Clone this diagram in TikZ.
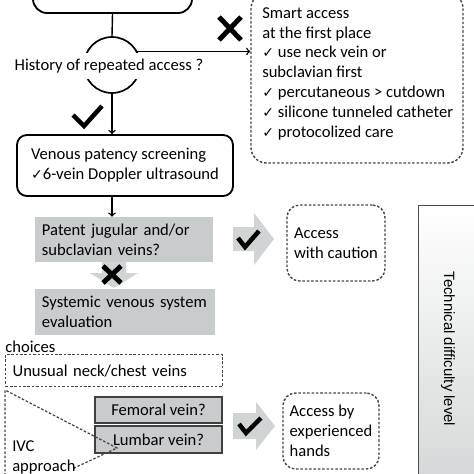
\documentclass[tikz,border=0pt]{standalone}
\usepackage{fontspec}
\setmainfont{Carlito}
\newfontfamily\arialfont{Liberation Sans}
\newfontfamily\symfont{DejaVu Sans}
\usepackage{tikz}
\usetikzlibrary{shapes.geometric,arrows,positioning,calc}

\newlength\unitpx
\setlength\unitpx{0.025cm}
\newcommand\chk{{\symfont\fontsize{10}{12}\selectfont ✓}}

\definecolor{boxgray}{RGB}{200,204,204}
\definecolor{dashgray}{RGB}{70,70,70}

\tikzstyle{txt}=[inner sep=0pt, align=left, font=\fontsize{11.8}{14.2}\selectfont]
\tikzstyle{solidbox}=[draw, line width=1.3pt, rounded corners=7pt]
\tikzstyle{dashbox}=[draw=dashgray, line width=1pt, dash pattern=on 1.8pt off 1.3pt, rounded corners=9pt]
\tikzstyle{dashrect}=[draw=dashgray, line width=0.9pt, dash pattern=on 1.8pt off 1.3pt]
\tikzstyle{graybox}=[fill=boxgray]
\tikzstyle{veinbox}=[fill=boxgray, draw=black!75, line width=1pt]
\tikzstyle{flow}=[->, line width=1pt]
\tikzstyle{tick}=[line width=3.2pt]
\tikzstyle{cross}=[line width=3.5pt]
\tikzstyle{blockarrow}=[fill=boxgray!85]

\begin{document}
\begin{tikzpicture}[x=1\unitpx, y=-1\unitpx]
\useasboundingbox (0,0) rectangle (474,474);
\clip (0,0) rectangle (474,474);

% start and decision
\node[solidbox, rounded corners=10pt, minimum width=159\unitpx, minimum height=50\unitpx] (start) at (112.5,-12) {};
\node[draw, circle, line width=1.2pt, minimum size=56\unitpx, inner sep=0pt] (hist) at (112,65) {};
\node[txt, fill=white, minimum height=26\unitpx] (histtxt) at (109,66) {History of repeated access ?};
\draw[line width=1pt] (start.south) -- (hist.north);

% smart access
\node[dashbox, rounded corners=11pt, minimum width=212\unitpx, minimum height=170\unitpx] (smart) at (357,78) {};
\node[txt, anchor=north west] (smarttxt) at (262,7) {Smart access\\at the first place\\\chk\ use neck vein or\\subclavian first\\\chk\ percutaneous > cutdown\\\chk\ silicone tunneled catheter\\\chk\ protocolized care};
\draw[flow] (hist.28) -- (hist.28 -| smart.west);
\draw[cross] (219,17) -- (241,40) (241,17) -- (219,40);

% screening
\node[solidbox, txt, minimum width=216\unitpx, minimum height=61\unitpx] (venous) at (125,165.5) {Venous patency screening\\\chk6-vein Doppler ultrasound};
\draw[flow] (hist.south) -- (hist.south |- venous.north);
\draw[tick] (73,115) -- (84,126) -- (102,106);

\node[graybox, txt, inner xsep=7\unitpx, text width=164\unitpx, minimum height=45\unitpx] (patent) at (124,239.5) {Patent jugular and/or\\subclavian veins?};
\draw[flow] (hist.south |- venous.south) -- (hist.south |- patent.north);

% no
\fill[blockarrow] (102,262) -- (126,262) -- (126,273) -- (138,273) -- (114,288) -- (90,273) -- (102,273) -- cycle;
\draw[cross] (103,266) -- (121,283) (121,266) -- (103,283);
\node[graybox, txt, inner xsep=7\unitpx, text width=166\unitpx, minimum height=46\unitpx] (systemic) at (125,312) {Systemic venous system\\evaluation};

% yes
\fill[blockarrow] (233,227) -- (254,227) -- (254,213) -- (274,239) -- (254,265) -- (254,251) -- (233,251) -- cycle;
\draw[tick] (238,238) -- (245,247) -- (259,231);
\node[dashbox, txt, minimum width=98\unitpx, minimum height=76\unitpx] (caution) at (336,243) {Access\\with caution};

% choices
\node[dashrect, txt, anchor=north west, inner xsep=7\unitpx, text width=203\unitpx, minimum height=32\unitpx] (unusual) at (5,354) {Unusual neck/chest veins};
\node[txt, anchor=base west] (choices) at (5,352) {choices};

\node[veinbox, txt, minimum width=127\unitpx, minimum height=26\unitpx] (femoral) at (158.5,410) {Femoral vein?};
\node[veinbox, txt, minimum width=127\unitpx, minimum height=27\unitpx] (lumbar) at (158.5,439.5) {Lumbar vein?};

% IVC
\coordinate (ivctop) at (5,390);
\coordinate (ivcbot) at (5,480);
\coordinate (ivctip) at (117,448);
\coordinate (ivcend) at (72,469);
\draw[dashrect] (ivcbot) -- (ivctop) -- (ivctip) -- (ivcend);
\node[txt, anchor=north west] (ivc) at (12,440) {IVC\\approach};

\fill[blockarrow] (233,413) -- (256,413) -- (256,402) -- (275,426) -- (256,450) -- (256,439) -- (233,439) -- cycle;
\draw[tick] (239,424) -- (246,433) -- (261,418);
\node[dashbox, txt, minimum width=96\unitpx, minimum height=76\unitpx] (experienced) at (331,431) {Access by\\experienced\\hands};

% difficulty
\node[draw=black!70, line width=0.8pt, top color=white, bottom color=boxgray!80, minimum width=70\unitpx, minimum height=290\unitpx, anchor=north west] (level) at (418,205) {};
\node[rotate=-90, font=\arialfont\fontsize{10.6}{12}\selectfont] (leveltxt) at (448,349) {Technical difficulty level};

\end{tikzpicture}
\end{document}
